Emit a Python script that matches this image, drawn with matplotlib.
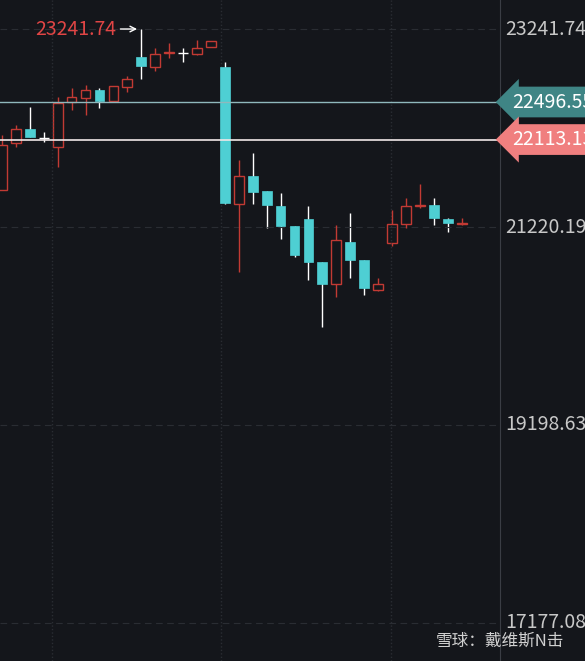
import matplotlib
matplotlib.use("Agg")
import matplotlib.pyplot as plt
from matplotlib.patches import Rectangle

plt.rcParams['font.family'] = ['Noto Sans CJK SC', 'DejaVu Sans']

opens  = [21598,22078,22221,22129,22037,22497,22537,22619,22507,22650,22956,22854,22997,22997,22987,23058,
          22854,21455,21741,21588,21435,21231,21302,20863,20638,21067,20883,20577,21057,21251,21435,21445,21302,21251]
highs  = [22160,22262,22446,22190,22548,22640,22670,22640,22660,22762,23241.74,23048,23099,23048,23130,23119,
          22905,21904,21976,21588,21568,21231,21435,20863,21241,21363,20883,20700,21394,21516,21659,21516,21312,21312]
lows   = [21598,22037,22139,22088,21833,22415,22364,22435,22507,22599,22731,22813,22946,22905,22976,23058,
          21455,20761,21455,21210,21098,20914,20680,20199,20506,20700,20526,20567,21026,21210,21414,21241,21169,21241]
closes = [22057,22221,22139,22129,22486,22548,22619,22507,22660,22731,22864,22987,23007,22997,23048,23119,
          21465,21741,21578,21445,21231,20934,20863,20638,21088,20883,20597,20638,21251,21435,21445,21312,21261,21261]
axis_ticks = [23241.74, 21220.19, 19198.63, 17177.08]
level_teal = 22496.55
level_red = 22113.13
bg = '#14161b'
teal = '#4ecfd3'
red = '#c23a34'

fig = plt.figure(figsize=(5.85, 6.61), dpi=100, facecolor=bg)
ax = fig.add_axes([0, 0, 500/585, 1], facecolor=bg)
ax.set_xlim(-0.14, 35.75)
ax.set_ylim(16789, 23538)
for s in ax.spines.values():
    s.set_visible(False)
ax.spines['right'].set_visible(True)
ax.spines['right'].set_color('#3a3d44')
ax.set_xticks([])
ax.set_yticks([])

for t in axis_ticks:
    ax.axhline(t, color='#2a2d33', lw=0.8, ls=(0, (6, 4)))
    ax.text(1.01, t, f'{t:.2f}', transform=ax.get_yaxis_transform(), color='#c8c8c8',
            fontsize=14, va='center', ha='left', clip_on=False)
for xv in [3.6, 15.7, 27.9]:
    ax.axvline(xv, color='#2a2d33', lw=1, ls=(0, (1, 1.5)))

w = 0.7
for i, (o, h, l, c) in enumerate(zip(opens, highs, lows, closes)):
    if c > o:
        col = red
        ax.vlines(i, l, o, color=col, lw=1)
        ax.vlines(i, c, h, color=col, lw=1)
        ax.add_patch(Rectangle((i - w/2, o), w, c - o, fill=False, edgecolor=col, lw=1))
    elif c < o:
        col = teal
        ax.vlines(i, l, h, color='white', lw=1, zorder=1)
        ax.add_patch(Rectangle((i - w/2, c), w, o - c, facecolor=col, edgecolor=col, lw=0.5, zorder=2))
    else:
        col = 'white' if i == 3 or i == 13 else red
        ax.vlines(i, l, h, color=col, lw=1)
        ax.hlines(o, i - w/2, i + w/2, color=col, lw=1)

ax.axhline(level_teal, color='#8fb8bc', lw=1)
ax.axhline(level_red, color='#f0e8e8', lw=1.2)
for lv, fc in [(level_teal, '#3f8585'), (level_red, '#f07f7f')]:
    ax.text(1.025, lv, f'{lv:.2f}', transform=ax.get_yaxis_transform(), color='white',
            fontsize=14, va='center', ha='left', clip_on=False,
            bbox=dict(boxstyle='larrow,pad=0.25', fc=fc, ec='none'))

ax.annotate('', xy=(9.9, 23241.74), xytext=(8.3, 23241.74),
            arrowprops=dict(arrowstyle='->', color='white', lw=1))
ax.text(8.2, 23241.74, '23241.74', color='#e04545', fontsize=14, ha='right', va='center')

fig.text(0.965, 0.03, '雪球：戴维斯N击', color='#d0d0d0', fontsize=12, ha='right', va='center')

fig.savefig('out.png', facecolor=bg)
